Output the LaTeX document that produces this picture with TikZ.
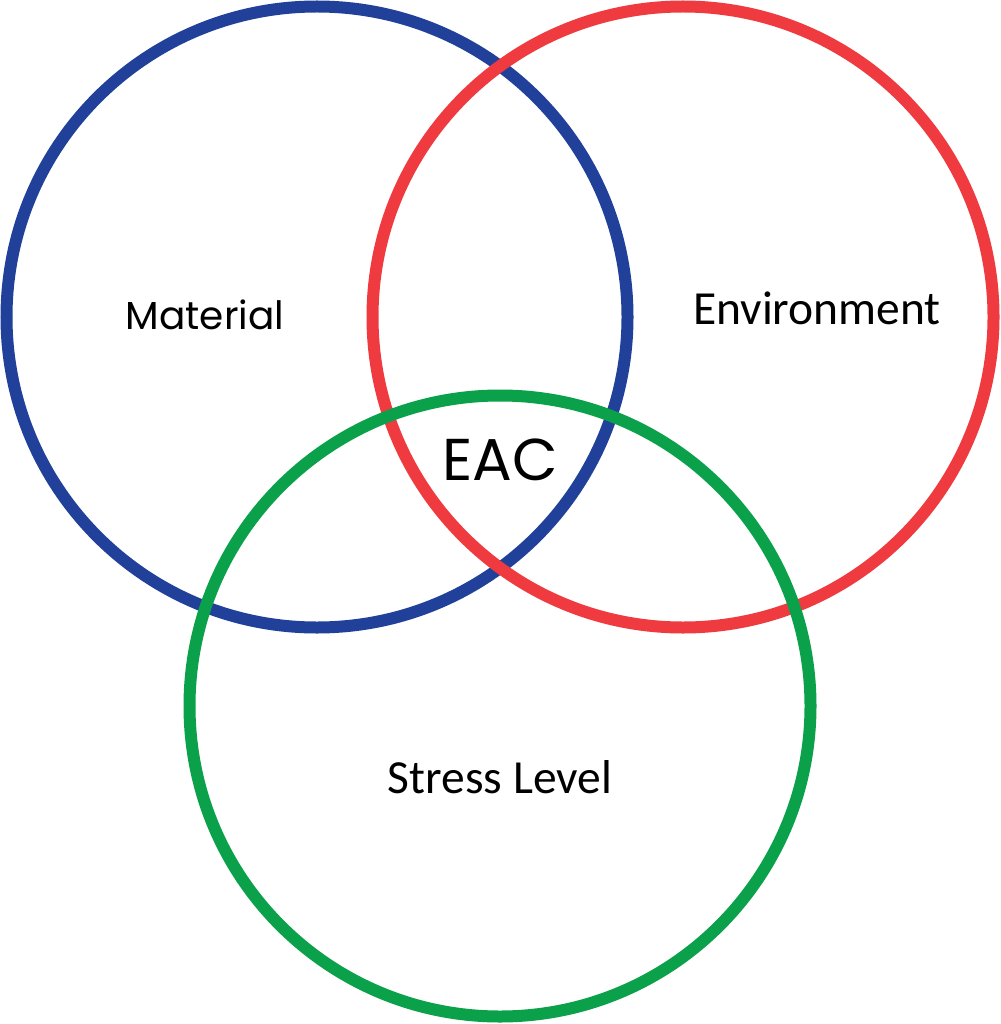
\documentclass[tikz,border=0pt]{standalone}
\usepackage{fontspec}
\setmainfont{Carlito}
\newfontfamily\geofont{Poppins}
\definecolor{cblue}{HTML}{21409A}
\definecolor{cred}{HTML}{EF3B3F}
\definecolor{cgreen}{HTML}{0BA14B}
\begin{document}
\begin{tikzpicture}[x=1pt,y=-1pt,
  ring/.style={line width=12pt},
  lblA/.style={anchor=base,inner sep=0pt,font=\fontsize{47.5}{52}\selectfont},
  lblB/.style={anchor=base,inner sep=0pt,font=\geofont\fontsize{39}{44}\selectfont},
  lblC/.style={anchor=base,inner sep=0pt,font=\geofont\fontsize{59}{64}\selectfont}]
\useasboundingbox (0,0) rectangle (1000,1024);
\fill[white] (0,0) rectangle (1000,1024);
\coordinate (cm) at (317,317);
\coordinate (ce) at (683,317);
\coordinate (cs) at (500,706);
\draw[ring,cblue] (cm) circle[radius=310.5];
\draw[ring,cred] (ce) circle[radius=310.5];
\draw[ring,cgreen] (cs) circle[radius=310.5];
\node[lblB] (mat) at (205,329) {Material};
\node[lblA] (env) at (817,324) {Environment};
\node[lblA] (str) at (500,793) {Stress Level};
\node[lblC] (eac) at (500,480) {EAC};
\end{tikzpicture}
\end{document}
